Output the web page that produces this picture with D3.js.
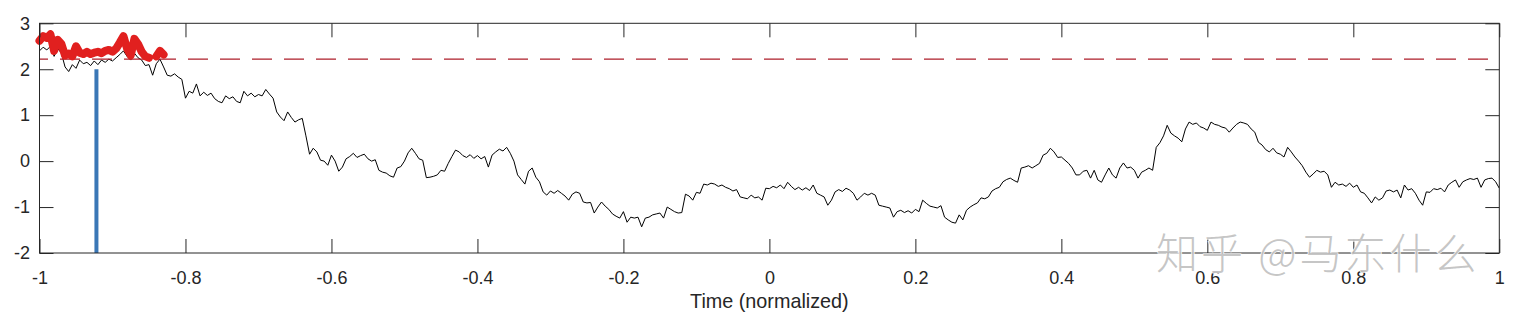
<!DOCTYPE html>
<html>
<head>
<meta charset="utf-8">
<script src="https://cdn.jsdelivr.net/npm/d3@7"></script>
<style>
  html, body { margin: 0; padding: 0; background: #ffffff; }
  svg { display: block; }
  text { font-family: "Liberation Sans", Arial, Helvetica, sans-serif; }
</style>
</head>
<body>
<svg id="chart" width="1524" height="322"></svg>
<script>
// Axis ticks and labels
const xTicks = [-1, -0.8, -0.6, -0.4, -0.2, 0, 0.2, 0.4, 0.6, 0.8, 1];
const xTickLabels = ["-1", "-0.8", "-0.6", "-0.4", "-0.2", "0", "0.2", "0.4", "0.6", "0.8", "1"];
const yTicks = [-2, -1, 0, 1, 2, 3];
const yTickLabels = ["-2", "-1", "0", "1", "2", "3"];
const xLabel = "Time (normalized)";
const watermark = "知乎 @马东什么";

// Sampling grid of the simulated path
const sampleStart = -1;
const sampleStep = 0.005;

// Brownian path, one value per sample
const pathValues = [
  2.40, 2.48, 2.42, 2.50, 2.28, 2.45, 2.35, 2.05, 1.95, 2.10,
  2.02, 2.20, 2.12, 2.15, 2.08, 2.18, 2.10, 2.20, 2.15, 2.22,
  2.18, 2.25, 2.32, 2.40, 2.28, 2.20, 2.35, 2.25, 2.20, 2.08,
  2.10, 1.87, 2.12, 2.22, 2.05, 1.87, 1.85, 1.90, 1.83, 1.78,
  1.37, 1.52, 1.48, 1.68, 1.42, 1.50, 1.43, 1.48, 1.36, 1.30,
  1.27, 1.42, 1.36, 1.40, 1.30, 1.27, 1.52, 1.42, 1.48, 1.40,
  1.45, 1.42, 1.56, 1.46, 1.37, 1.07, 0.96, 0.88, 1.07, 0.95,
  0.85, 0.90, 0.93, 0.55, 0.15, 0.28, 0.20, 0.02, 0.00, -0.09,
  0.13, 0.00, -0.22, -0.13, 0.05, 0.10, 0.17, 0.08, 0.12, 0.15,
  0.05, 0.00, 0.03, -0.20, -0.24, -0.26, -0.32, -0.35, -0.15, -0.12,
  0.00, 0.18, 0.28, 0.17, 0.05, 0.02, -0.36, -0.35, -0.33, -0.30,
  -0.20, -0.22, -0.05, 0.10, 0.24, 0.20, 0.12, 0.08, 0.14, 0.06,
  0.12, 0.05, 0.10, -0.13, 0.13, 0.20, 0.26, 0.22, 0.30, 0.17,
  0.00, -0.30, -0.40, -0.50, -0.22, -0.15, -0.35, -0.45, -0.67, -0.74,
  -0.65, -0.70, -0.64, -0.70, -0.76, -0.85, -0.72, -0.67, -0.70, -0.89,
  -0.91, -0.90, -1.13, -1.00, -0.89, -0.98, -1.05, -1.15, -1.20, -1.24,
  -1.10, -1.33, -1.22, -1.24, -1.22, -1.43, -1.24, -1.22, -1.17, -1.15,
  -1.13, -1.24, -1.00, -1.05, -1.10, -1.13, -1.12, -0.72, -0.76, -0.85,
  -0.68, -0.70, -0.50, -0.52, -0.48, -0.50, -0.55, -0.52, -0.57, -0.60,
  -0.65, -0.62, -0.78, -0.80, -0.82, -0.74, -0.80, -0.78, -0.85, -0.59,
  -0.60, -0.55, -0.58, -0.52, -0.60, -0.46, -0.55, -0.62, -0.57, -0.63,
  -0.58, -0.64, -0.52, -0.70, -0.74, -0.78, -0.96, -0.85, -0.67, -0.62,
  -0.66, -0.59, -0.63, -0.70, -0.85, -0.78, -0.70, -0.74, -0.70, -0.74,
  -0.96, -0.98, -1.00, -1.02, -1.22, -1.10, -1.07, -1.12, -1.08, -1.13,
  -1.05, -1.10, -0.85, -0.92, -0.98, -1.00, -1.02, -0.97, -1.22, -1.28,
  -1.33, -1.35, -1.17, -1.28, -1.07, -1.00, -0.95, -0.91, -0.80, -0.82,
  -0.78, -0.65, -0.60, -0.57, -0.45, -0.40, -0.37, -0.42, -0.46, -0.15,
  -0.13, -0.10, -0.15, -0.10, -0.05, 0.13, 0.17, 0.28, 0.20, 0.08,
  0.09, 0.02, -0.05, -0.15, -0.30, -0.30, -0.22, -0.20, -0.37, -0.20,
  -0.41, -0.46, -0.30, -0.15, -0.30, -0.37, -0.15, -0.04, -0.15, -0.13,
  -0.20, -0.37, -0.24, -0.20, -0.15, -0.20, 0.30, 0.40, 0.55, 0.78,
  0.61, 0.55, 0.50, 0.42, 0.70, 0.85, 0.80, 0.83, 0.75, 0.72,
  0.67, 0.85, 0.80, 0.78, 0.74, 0.72, 0.63, 0.72, 0.80, 0.85,
  0.83, 0.80, 0.70, 0.63, 0.41, 0.35, 0.25, 0.20, 0.28, 0.18,
  0.15, 0.09, 0.30, 0.20, 0.09, 0.00, -0.10, -0.24, -0.35, -0.28,
  -0.20, -0.24, -0.22, -0.30, -0.57, -0.46, -0.52, -0.50, -0.55, -0.48,
  -0.57, -0.52, -0.67, -0.70, -0.80, -0.91, -0.78, -0.85, -0.80, -0.65,
  -0.63, -0.67, -0.63, -0.80, -0.52, -0.63, -0.60, -0.70, -0.85, -0.96,
  -0.67, -0.68, -0.60, -0.62, -0.59, -0.67, -0.52, -0.46, -0.41, -0.57,
  -0.45, -0.41, -0.38, -0.40, -0.37, -0.57, -0.41, -0.38, -0.37, -0.45,
  -0.59
];

// Highlighted stretch above the barrier (null marks a break)
const highlightValues = [
  2.62, 2.72, 2.68, 2.76, 2.40, 2.64, 2.55, 2.30, 2.34, 2.28,
  2.50, 2.36, 2.33, 2.38, 2.33, 2.36, 2.38, 2.35, 2.40, 2.42,
  2.38, 2.45, 2.58, 2.72, 2.45, 2.30, 2.66, 2.55, 2.38, 2.28,
  2.25, null, 2.28, 2.40, 2.32
];

const barrierLevel = 2.22;   // dashed threshold
const hitTime = -0.922;      // first passage marker
const hitLevel = 2;

// Layout
const plot = { left: 39.5, right: 1499.3, top: 23.3, bottom: 253 };
const tickLen = 14;
const axisColor = "#262626";

const svg = d3.select("#chart");

const x = d3.scaleLinear().domain([-1, 1]).range([plot.left, plot.right]);
const y = d3.scaleLinear().domain([-2, 3]).range([plot.bottom, plot.top]);

const pathData = pathValues.map((v, i) => ({ t: sampleStart + i * sampleStep, v }));
const highlightData = highlightValues.map((v, i) => ({ t: sampleStart + i * sampleStep, v }));

svg.append("defs").append("clipPath").attr("id", "plot-clip")
  .append("rect")
  .attr("x", plot.left).attr("y", plot.top)
  .attr("width", plot.right - plot.left).attr("height", plot.bottom - plot.top);

const line = d3.line()
  .defined(d => d.v !== null)
  .x(d => x(d.t))
  .y(d => y(d.v));

const layer = svg.append("g").attr("clip-path", "url(#plot-clip)");

// Path
layer.append("path")
  .datum(pathData)
  .attr("d", line)
  .attr("fill", "none")
  .attr("stroke", "#000000")
  .attr("stroke-width", 1)
  .attr("stroke-linejoin", "round");

// Barrier
layer.append("line")
  .attr("x1", x(-1)).attr("x2", x(1))
  .attr("y1", y(barrierLevel)).attr("y2", y(barrierLevel))
  .attr("stroke", "#ad1e2a")
  .attr("stroke-width", 1.3)
  .attr("stroke-dasharray", "20,12")
  .attr("stroke-dashoffset", 11.5);

// First passage time
layer.append("line")
  .attr("x1", x(hitTime)).attr("x2", x(hitTime))
  .attr("y1", y(-2)).attr("y2", y(hitLevel))
  .attr("stroke", "#3a77b6")
  .attr("stroke-width", 4);

// Highlighted stretch
svg.append("path")
  .datum(highlightData)
  .attr("d", line)
  .attr("fill", "none")
  .attr("stroke", "#e1201f")
  .attr("stroke-width", 8)
  .attr("stroke-linejoin", "round")
  .attr("stroke-linecap", "round");

// Axes
const fmtX = (d, i) => xTickLabels[i];
const fmtY = (d, i) => yTickLabels[i];

const bottomAxis = svg.append("g")
  .attr("transform", `translate(0,${plot.bottom})`)
  .call(d3.axisBottom(x).tickValues(xTicks).tickFormat(fmtX).tickSizeInner(-tickLen).tickSizeOuter(0).tickPadding(18));
const topAxis = svg.append("g")
  .attr("transform", `translate(0,${plot.top})`)
  .call(d3.axisTop(x).tickValues(xTicks).tickFormat("").tickSizeInner(-tickLen).tickSizeOuter(0));
const leftAxis = svg.append("g")
  .attr("transform", `translate(${plot.left},0)`)
  .call(d3.axisLeft(y).tickValues(yTicks).tickFormat(fmtY).tickSizeInner(-tickLen).tickSizeOuter(0).tickPadding(9.5));
const rightAxis = svg.append("g")
  .attr("transform", `translate(${plot.right},0)`)
  .call(d3.axisRight(y).tickValues(yTicks).tickFormat("").tickSizeInner(-tickLen).tickSizeOuter(0));

[bottomAxis, topAxis, leftAxis, rightAxis].forEach(g => {
  g.select(".domain").remove();
  g.selectAll(".tick line").attr("stroke", axisColor).attr("stroke-width", 1);
  g.selectAll(".tick text")
    .attr("fill", axisColor)
    .style("font-size", "18px")
    .style("font-family", "'Liberation Sans', Arial, Helvetica, sans-serif");
});

// Axes box
svg.append("rect")
  .attr("x", plot.left).attr("y", plot.top)
  .attr("width", plot.right - plot.left).attr("height", plot.bottom - plot.top)
  .attr("fill", "none")
  .attr("stroke", axisColor)
  .attr("stroke-width", 1);

// X label
svg.append("text")
  .attr("x", (plot.left + plot.right) / 2)
  .attr("y", 308)
  .attr("text-anchor", "middle")
  .attr("fill", axisColor)
  .style("font-size", "19.8px")
  .text(xLabel);

// Watermark
svg.append("text")
  .attr("x", 1156)
  .attr("y", 269)
  .attr("fill", "#bcbcbc")
  .attr("fill-opacity", 0.85)
  .attr("stroke", "#ffffff")
  .attr("stroke-width", 1.2)
  .attr("paint-order", "stroke")
  .style("font-family", "'Noto Sans CJK SC', sans-serif")
  .style("font-size", "42px")
  .style("font-weight", 300)
  .style("letter-spacing", "3px")
  .text(watermark);
</script>
</body>
</html>
